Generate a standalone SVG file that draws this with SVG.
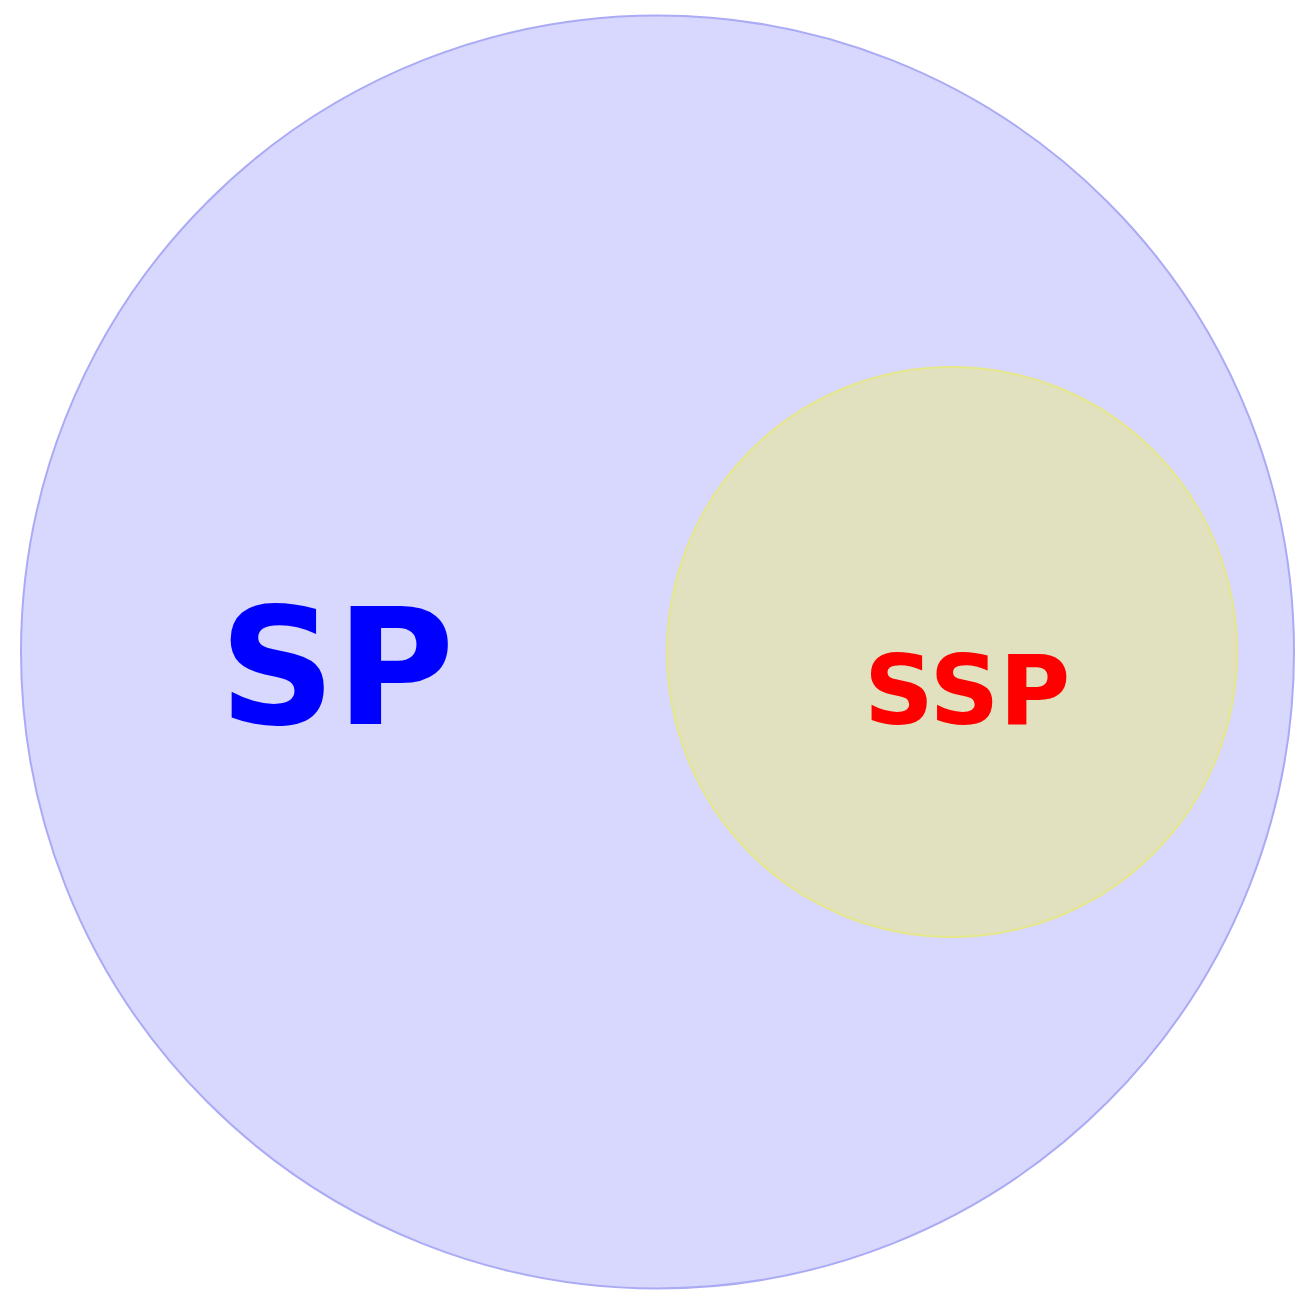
<svg xmlns="http://www.w3.org/2000/svg" width="1313" height="1306" viewBox="0 0 1313 1306">
<style>
.lbl{font-family:"DejaVu Sans","Liberation Sans",sans-serif;font-weight:bold}
</style>
<rect width="1313" height="1306" fill="#ffffff"/>
<g id="SP">
<circle cx="657.5" cy="652" r="636.5" fill="#d8d8ff" stroke="#aaaaf5" stroke-width="2"/>
<text class="lbl" x="219" y="724" font-size="162" fill="#0000ff">SP</text>
</g>
<g id="SSP">
<circle cx="952" cy="652" r="285" fill="#e1e1c0" stroke="#e6e68a" stroke-width="2"/>
<text class="lbl" x="864" y="724" font-size="97" fill="#ff0000">SSP</text>
</g>
<g id="connectors"/>
</svg>
